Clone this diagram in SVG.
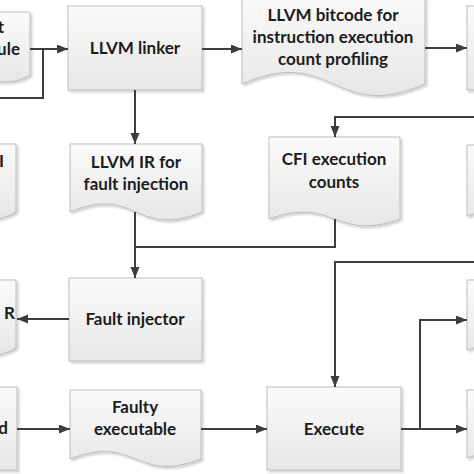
<svg xmlns="http://www.w3.org/2000/svg" width="474" height="474" viewBox="0 0 474 474">
<style>
.shape{fill:url(#g);stroke:#bcbcbc;stroke-width:1;filter:url(#sh)}
.t{font-family:Lato,"Open Sans","Liberation Sans",sans-serif;font-weight:bold;font-size:17px;fill:#1c1c1c;text-anchor:middle}
.te{text-anchor:end}
.c{fill:none;stroke:#3d3d3d;stroke-width:2}
.a{marker-end:url(#ah)}
</style>
<defs>
<linearGradient id="g" x1="0" y1="0" x2="0" y2="1">
<stop offset="0" stop-color="#fbfbfb"/>
<stop offset="1" stop-color="#e7e7e7"/>
</linearGradient>
<filter id="sh" x="-10%" y="-10%" width="130%" height="130%">
<feDropShadow dx="2" dy="2" stdDeviation="1.2" flood-color="#000" flood-opacity="0.18"/>
</filter>
<marker id="ah" markerUnits="userSpaceOnUse" markerWidth="12" markerHeight="10" refX="11" refY="4.5" orient="auto">
<path d="M0,0 L11,4.5 L0,9 z" fill="#3d3d3d"/>
</marker>
</defs>

<g id="left-doc-1">
<path class="shape" d="M-102,12 H30 V75 C-6,99 -66,51 -102,75 Z"/>
<text class="t te" x="4" y="33">t</text>
<text class="t te" x="20" y="55">ule</text>
</g>
<g id="left-doc-2">
<path class="shape" d="M-116,144 H16 V212 C-20,236 -80,188 -116,212 Z"/>
<text class="t te" x="4" y="167">I</text>
</g>
<g id="left-doc-3">
<path class="shape" d="M-116,280 H16 V348 C-20,372 -80,324 -116,348 Z"/>
<text class="t te" x="15" y="319">R</text>
</g>
<g id="left-box-4">
<rect class="shape" x="-116" y="387" width="133" height="83"/>
<text class="t te" x="8" y="434">d</text>
</g>

<g id="llvm-linker">
<rect class="shape" x="68" y="6" width="134" height="84"/>
<text class="t" x="135" y="54">LLVM linker</text>
</g>
<g id="llvm-ir">
<path class="shape" d="M70,144 H202 V212 C136,240 136,184 70,212 Z"/>
<text class="t" x="136" y="168">LLVM IR for</text>
<text class="t" x="136" y="190">fault injection</text>
</g>
<g id="fault-injector">
<rect class="shape" x="69" y="278" width="133" height="83"/>
<text class="t" x="135" y="325">Fault injector</text>
</g>
<g id="faulty-executable">
<path class="shape" d="M70,390 H201 V459 C135.5,485 135.5,433 70,459 Z"/>
<text class="t" x="135" y="413">Faulty</text>
<text class="t" x="135" y="435">executable</text>
</g>

<g id="llvm-bitcode">
<path class="shape" d="M242,-8 H425 V84 C333.5,124 333.5,44 242,84 Z"/>
<text class="t" x="333" y="21">LLVM bitcode for</text>
<text class="t" x="333" y="43">instruction execution</text>
<text class="t" x="333" y="65">count profiling</text>
</g>
<g id="cfi-counts">
<path class="shape" d="M269,137 H400 V219 C334.5,243 334.5,195 269,219 Z"/>
<text class="t" x="334" y="165">CFI execution</text>
<text class="t" x="334" y="188">counts</text>
</g>
<g id="execute">
<rect class="shape" x="267" y="387" width="134" height="83"/>
<text class="t" x="334" y="435">Execute</text>
</g>

<g id="right-box-1">
<rect class="shape" x="467" y="6" width="140" height="84"/>
</g>
<g id="right-doc-2">
<path class="shape" d="M467,145 H607 V216 C537,240 537,192 467,216 Z"/>
</g>
<g id="right-doc-3">
<path class="shape" d="M467,280 H607 V350 C537,374 537,326 467,350 Z"/>
</g>
<g id="right-doc-4">
<path class="shape" d="M467,390 H607 V458 C537,482 537,434 467,458 Z"/>
</g>

<g id="connectors">
<path class="c a" d="M30,49 H68"/>
<path class="c" d="M0,98 H43 V49"/>
<path class="c a" d="M202,49 H242"/>
<path class="c a" d="M425,48 H467"/>
<path class="c a" d="M135,90 V144"/>
<path class="c a" d="M474,117 H335 V137"/>
<path class="c a" d="M135,212 V278"/>
<path class="c" d="M335,219 V247 H135"/>
<path class="c a" d="M69,319 H17"/>
<path class="c a" d="M17,429 H70"/>
<path class="c a" d="M201,429 H267"/>
<path class="c a" d="M474,262 H335 V387"/>
<path class="c a" d="M401,429 H467"/>
<path class="c a" d="M420,429 V320 H467"/>
</g>
</svg>
